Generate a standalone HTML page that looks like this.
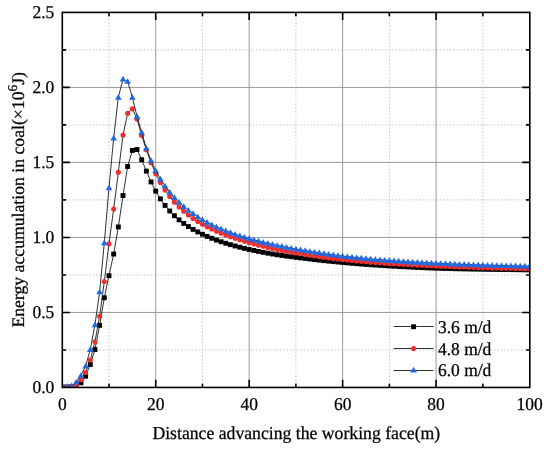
<!DOCTYPE html>
<html><head><meta charset="utf-8"><style>html,body{margin:0;padding:0;background:#fff;width:550px;height:449px;overflow:hidden}svg{display:block;text-rendering:geometricPrecision}</style></head><body>
<svg width="550" height="449" viewBox="0 0 550 449">
<defs><clipPath id="c"><rect x="62.3" y="12.4" width="467.5" height="375.05"/></clipPath></defs>
<rect width="550" height="449" fill="#fff"/>
<g stroke-width="1" fill="none">
<path d="M108.98 387.45V12.4" stroke="#bdbdbd" stroke-dasharray="1.4 2"/>
<path d="M155.71 12.4V387.45" stroke="#9a9a9a"/>
<path d="M202.44 387.45V12.4" stroke="#bdbdbd" stroke-dasharray="1.4 2"/>
<path d="M249.17 12.4V387.45" stroke="#9a9a9a"/>
<path d="M295.9 387.45V12.4" stroke="#bdbdbd" stroke-dasharray="1.4 2"/>
<path d="M342.63 12.4V387.45" stroke="#9a9a9a"/>
<path d="M389.36 387.45V12.4" stroke="#bdbdbd" stroke-dasharray="1.4 2"/>
<path d="M436.09 12.4V387.45" stroke="#9a9a9a"/>
<path d="M482.82 387.45V12.4" stroke="#bdbdbd" stroke-dasharray="1.4 2"/>
<path d="M62.3 349.94H529.8" stroke="#bdbdbd" stroke-dasharray="1.4 2"/>
<path d="M62.3 312.44H529.8" stroke="#9a9a9a"/>
<path d="M62.3 274.93H529.8" stroke="#bdbdbd" stroke-dasharray="1.4 2"/>
<path d="M62.3 237.43H529.8" stroke="#9a9a9a"/>
<path d="M62.3 199.92H529.8" stroke="#bdbdbd" stroke-dasharray="1.4 2"/>
<path d="M62.3 162.42H529.8" stroke="#9a9a9a"/>
<path d="M62.3 124.91H529.8" stroke="#bdbdbd" stroke-dasharray="1.4 2"/>
<path d="M62.3 87.41H529.8" stroke="#9a9a9a"/>
<path d="M62.3 49.9H529.8" stroke="#bdbdbd" stroke-dasharray="1.4 2"/>
</g>
<g clip-path="url(#c)">
<polyline points="62.25,387.15 66.92,387 71.6,386.7 76.27,386.25 80.94,382.8 85.62,376.2 90.29,364.5 94.96,349.49 99.63,325.34 104.31,297.74 108.98,275.69 113.65,254.08 118.33,226.93 123,195.57 127.67,166.47 132.34,150.42 137.02,149.52 141.69,159.72 146.36,171.12 151.04,181.92 155.71,191.13 160.38,198.87 165.06,205.41 169.73,210.96 174.4,215.72 179.07,219.84 183.75,223.42 188.42,226.58 193.09,229.37 197.77,231.94 202.44,234.26 207.11,236.38 211.79,238.31 216.46,240.1 221.13,241.76 225.81,243.26 230.48,244.66 235.15,245.97 239.82,247.21 244.5,248.37 249.17,249.48 253.84,250.48 258.52,251.42 263.19,252.32 267.86,253.18 272.53,253.99 277.21,254.77 281.88,255.46 286.55,256.11 291.23,256.73 295.9,257.33 300.57,257.89 305.25,258.43 309.92,259.01 314.59,259.57 319.26,260.11 323.94,260.63 328.61,261.12 333.28,261.59 337.96,262.04 342.63,262.48 347.3,262.89 351.98,263.29 356.65,263.67 361.32,264.04 366,264.39 370.67,264.73 375.34,265.05 380.01,265.36 384.69,265.66 389.36,265.94 394.03,266.21 398.71,266.47 403.38,266.72 408.05,266.96 412.73,267.19 417.4,267.42 422.07,267.63 426.74,267.83 431.42,268.02 436.09,268.21 440.76,268.35 445.44,268.47 450.11,268.59 454.78,268.71 459.45,268.81 464.13,268.91 468.8,269.01 473.47,269.1 478.15,269.18 482.82,269.26 487.49,269.33 492.17,269.4 496.84,269.46 501.51,269.52 506.19,269.58 510.86,269.63 515.53,269.68 520.2,269.76 524.88,269.85 529.55,269.93" fill="none" stroke="#1a1a1a" stroke-width="0.9" stroke-linejoin="round"/>
<rect x="59.8" y="384.7" width="4.9" height="4.9" fill="#000"/>
<rect x="64.47" y="384.55" width="4.9" height="4.9" fill="#000"/>
<rect x="69.15" y="384.25" width="4.9" height="4.9" fill="#000"/>
<rect x="73.82" y="383.8" width="4.9" height="4.9" fill="#000"/>
<rect x="78.49" y="380.35" width="4.9" height="4.9" fill="#000"/>
<rect x="83.17" y="373.75" width="4.9" height="4.9" fill="#000"/>
<rect x="87.84" y="362.05" width="4.9" height="4.9" fill="#000"/>
<rect x="92.51" y="347.04" width="4.9" height="4.9" fill="#000"/>
<rect x="97.18" y="322.89" width="4.9" height="4.9" fill="#000"/>
<rect x="101.86" y="295.29" width="4.9" height="4.9" fill="#000"/>
<rect x="106.53" y="273.24" width="4.9" height="4.9" fill="#000"/>
<rect x="111.2" y="251.63" width="4.9" height="4.9" fill="#000"/>
<rect x="115.88" y="224.48" width="4.9" height="4.9" fill="#000"/>
<rect x="120.55" y="193.12" width="4.9" height="4.9" fill="#000"/>
<rect x="125.22" y="164.02" width="4.9" height="4.9" fill="#000"/>
<rect x="129.9" y="147.97" width="4.9" height="4.9" fill="#000"/>
<rect x="134.57" y="147.07" width="4.9" height="4.9" fill="#000"/>
<rect x="139.24" y="157.27" width="4.9" height="4.9" fill="#000"/>
<rect x="143.91" y="168.67" width="4.9" height="4.9" fill="#000"/>
<rect x="148.59" y="179.47" width="4.9" height="4.9" fill="#000"/>
<rect x="153.26" y="188.68" width="4.9" height="4.9" fill="#000"/>
<rect x="157.93" y="196.42" width="4.9" height="4.9" fill="#000"/>
<rect x="162.61" y="202.96" width="4.9" height="4.9" fill="#000"/>
<rect x="167.28" y="208.51" width="4.9" height="4.9" fill="#000"/>
<rect x="171.95" y="213.27" width="4.9" height="4.9" fill="#000"/>
<rect x="176.62" y="217.39" width="4.9" height="4.9" fill="#000"/>
<rect x="181.3" y="220.97" width="4.9" height="4.9" fill="#000"/>
<rect x="185.97" y="224.13" width="4.9" height="4.9" fill="#000"/>
<rect x="190.64" y="226.92" width="4.9" height="4.9" fill="#000"/>
<rect x="195.32" y="229.49" width="4.9" height="4.9" fill="#000"/>
<rect x="199.99" y="231.81" width="4.9" height="4.9" fill="#000"/>
<rect x="204.66" y="233.93" width="4.9" height="4.9" fill="#000"/>
<rect x="209.34" y="235.86" width="4.9" height="4.9" fill="#000"/>
<rect x="214.01" y="237.65" width="4.9" height="4.9" fill="#000"/>
<rect x="218.68" y="239.31" width="4.9" height="4.9" fill="#000"/>
<rect x="223.36" y="240.81" width="4.9" height="4.9" fill="#000"/>
<rect x="228.03" y="242.21" width="4.9" height="4.9" fill="#000"/>
<rect x="232.7" y="243.52" width="4.9" height="4.9" fill="#000"/>
<rect x="237.37" y="244.76" width="4.9" height="4.9" fill="#000"/>
<rect x="242.05" y="245.92" width="4.9" height="4.9" fill="#000"/>
<rect x="246.72" y="247.03" width="4.9" height="4.9" fill="#000"/>
<rect x="251.39" y="248.03" width="4.9" height="4.9" fill="#000"/>
<rect x="256.07" y="248.97" width="4.9" height="4.9" fill="#000"/>
<rect x="260.74" y="249.87" width="4.9" height="4.9" fill="#000"/>
<rect x="265.41" y="250.73" width="4.9" height="4.9" fill="#000"/>
<rect x="270.08" y="251.54" width="4.9" height="4.9" fill="#000"/>
<rect x="274.76" y="252.32" width="4.9" height="4.9" fill="#000"/>
<rect x="279.43" y="253.01" width="4.9" height="4.9" fill="#000"/>
<rect x="284.1" y="253.66" width="4.9" height="4.9" fill="#000"/>
<rect x="288.78" y="254.28" width="4.9" height="4.9" fill="#000"/>
<rect x="293.45" y="254.88" width="4.9" height="4.9" fill="#000"/>
<rect x="298.12" y="255.44" width="4.9" height="4.9" fill="#000"/>
<rect x="302.8" y="255.98" width="4.9" height="4.9" fill="#000"/>
<rect x="307.47" y="256.56" width="4.9" height="4.9" fill="#000"/>
<rect x="312.14" y="257.12" width="4.9" height="4.9" fill="#000"/>
<rect x="316.81" y="257.66" width="4.9" height="4.9" fill="#000"/>
<rect x="321.49" y="258.18" width="4.9" height="4.9" fill="#000"/>
<rect x="326.16" y="258.67" width="4.9" height="4.9" fill="#000"/>
<rect x="330.83" y="259.14" width="4.9" height="4.9" fill="#000"/>
<rect x="335.51" y="259.59" width="4.9" height="4.9" fill="#000"/>
<rect x="340.18" y="260.03" width="4.9" height="4.9" fill="#000"/>
<rect x="344.85" y="260.44" width="4.9" height="4.9" fill="#000"/>
<rect x="349.53" y="260.84" width="4.9" height="4.9" fill="#000"/>
<rect x="354.2" y="261.22" width="4.9" height="4.9" fill="#000"/>
<rect x="358.87" y="261.59" width="4.9" height="4.9" fill="#000"/>
<rect x="363.55" y="261.94" width="4.9" height="4.9" fill="#000"/>
<rect x="368.22" y="262.28" width="4.9" height="4.9" fill="#000"/>
<rect x="372.89" y="262.6" width="4.9" height="4.9" fill="#000"/>
<rect x="377.56" y="262.91" width="4.9" height="4.9" fill="#000"/>
<rect x="382.24" y="263.21" width="4.9" height="4.9" fill="#000"/>
<rect x="386.91" y="263.49" width="4.9" height="4.9" fill="#000"/>
<rect x="391.58" y="263.76" width="4.9" height="4.9" fill="#000"/>
<rect x="396.26" y="264.02" width="4.9" height="4.9" fill="#000"/>
<rect x="400.93" y="264.27" width="4.9" height="4.9" fill="#000"/>
<rect x="405.6" y="264.51" width="4.9" height="4.9" fill="#000"/>
<rect x="410.28" y="264.74" width="4.9" height="4.9" fill="#000"/>
<rect x="414.95" y="264.97" width="4.9" height="4.9" fill="#000"/>
<rect x="419.62" y="265.18" width="4.9" height="4.9" fill="#000"/>
<rect x="424.29" y="265.38" width="4.9" height="4.9" fill="#000"/>
<rect x="428.97" y="265.57" width="4.9" height="4.9" fill="#000"/>
<rect x="433.64" y="265.76" width="4.9" height="4.9" fill="#000"/>
<rect x="438.31" y="265.9" width="4.9" height="4.9" fill="#000"/>
<rect x="442.99" y="266.02" width="4.9" height="4.9" fill="#000"/>
<rect x="447.66" y="266.14" width="4.9" height="4.9" fill="#000"/>
<rect x="452.33" y="266.26" width="4.9" height="4.9" fill="#000"/>
<rect x="457" y="266.36" width="4.9" height="4.9" fill="#000"/>
<rect x="461.68" y="266.46" width="4.9" height="4.9" fill="#000"/>
<rect x="466.35" y="266.56" width="4.9" height="4.9" fill="#000"/>
<rect x="471.02" y="266.65" width="4.9" height="4.9" fill="#000"/>
<rect x="475.7" y="266.73" width="4.9" height="4.9" fill="#000"/>
<rect x="480.37" y="266.81" width="4.9" height="4.9" fill="#000"/>
<rect x="485.04" y="266.88" width="4.9" height="4.9" fill="#000"/>
<rect x="489.72" y="266.95" width="4.9" height="4.9" fill="#000"/>
<rect x="494.39" y="267.01" width="4.9" height="4.9" fill="#000"/>
<rect x="499.06" y="267.07" width="4.9" height="4.9" fill="#000"/>
<rect x="503.74" y="267.13" width="4.9" height="4.9" fill="#000"/>
<rect x="508.41" y="267.18" width="4.9" height="4.9" fill="#000"/>
<rect x="513.08" y="267.23" width="4.9" height="4.9" fill="#000"/>
<rect x="517.75" y="267.31" width="4.9" height="4.9" fill="#000"/>
<rect x="522.43" y="267.4" width="4.9" height="4.9" fill="#000"/>
<rect x="527.1" y="267.48" width="4.9" height="4.9" fill="#000"/>
<polyline points="62.25,387 66.92,386.7 71.6,386.25 76.27,385.05 80.94,379.8 85.62,372.45 90.29,360 94.96,341.69 99.63,316.34 104.31,281.54 108.98,243.73 113.65,209.08 118.33,172.32 123,135.12 127.67,113.36 132.34,108.86 137.02,119.06 141.69,135.42 146.36,149.82 151.04,162.72 155.71,173.65 160.38,182.53 165.06,190.07 169.73,196.55 174.4,202.14 179.07,207.01 183.75,211.29 188.42,215.07 193.09,218.46 197.77,221.5 202.44,224.25 207.11,226.77 211.79,229.07 216.46,231.2 221.13,233.17 225.81,235.01 230.48,236.73 235.15,238.34 239.82,239.86 244.5,241.3 249.17,242.65 253.84,243.94 258.52,245.15 263.19,246.31 267.86,247.41 272.53,248.46 277.21,249.46 281.88,250.42 286.55,251.33 291.23,252.2 295.9,253.03 300.57,253.82 305.25,254.58 309.92,255.3 314.59,255.99 319.26,256.66 323.94,257.29 328.61,257.89 333.28,258.47 337.96,259.03 342.63,259.56 347.3,260.04 351.98,260.5 356.65,260.94 361.32,261.36 366,261.76 370.67,262.14 375.34,262.5 380.01,262.85 384.69,263.18 389.36,263.49 394.03,263.79 398.71,264.08 403.38,264.35 408.05,264.61 412.73,264.86 417.4,265.1 422.07,265.32 426.74,265.54 431.42,265.74 436.09,265.94 440.76,266.14 445.44,266.34 450.11,266.53 454.78,266.71 459.45,266.88 464.13,267.05 468.8,267.2 473.47,267.35 478.15,267.5 482.82,267.64 487.49,267.77 492.17,267.89 496.84,268.01 501.51,268.13 506.19,268.24 510.86,268.34 515.53,268.44 520.2,268.54 524.88,268.64 529.55,268.73" fill="none" stroke="#1a1a1a" stroke-width="0.9" stroke-linejoin="round"/>
<circle cx="62.25" cy="387" r="2.55" fill="#ee3030"/>
<circle cx="66.92" cy="386.7" r="2.55" fill="#ee3030"/>
<circle cx="71.6" cy="386.25" r="2.55" fill="#ee3030"/>
<circle cx="76.27" cy="385.05" r="2.55" fill="#ee3030"/>
<circle cx="80.94" cy="379.8" r="2.55" fill="#ee3030"/>
<circle cx="85.62" cy="372.45" r="2.55" fill="#ee3030"/>
<circle cx="90.29" cy="360" r="2.55" fill="#ee3030"/>
<circle cx="94.96" cy="341.69" r="2.55" fill="#ee3030"/>
<circle cx="99.63" cy="316.34" r="2.55" fill="#ee3030"/>
<circle cx="104.31" cy="281.54" r="2.55" fill="#ee3030"/>
<circle cx="108.98" cy="243.73" r="2.55" fill="#ee3030"/>
<circle cx="113.65" cy="209.08" r="2.55" fill="#ee3030"/>
<circle cx="118.33" cy="172.32" r="2.55" fill="#ee3030"/>
<circle cx="123" cy="135.12" r="2.55" fill="#ee3030"/>
<circle cx="127.67" cy="113.36" r="2.55" fill="#ee3030"/>
<circle cx="132.34" cy="108.86" r="2.55" fill="#ee3030"/>
<circle cx="137.02" cy="119.06" r="2.55" fill="#ee3030"/>
<circle cx="141.69" cy="135.42" r="2.55" fill="#ee3030"/>
<circle cx="146.36" cy="149.82" r="2.55" fill="#ee3030"/>
<circle cx="151.04" cy="162.72" r="2.55" fill="#ee3030"/>
<circle cx="155.71" cy="173.65" r="2.55" fill="#ee3030"/>
<circle cx="160.38" cy="182.53" r="2.55" fill="#ee3030"/>
<circle cx="165.06" cy="190.07" r="2.55" fill="#ee3030"/>
<circle cx="169.73" cy="196.55" r="2.55" fill="#ee3030"/>
<circle cx="174.4" cy="202.14" r="2.55" fill="#ee3030"/>
<circle cx="179.07" cy="207.01" r="2.55" fill="#ee3030"/>
<circle cx="183.75" cy="211.29" r="2.55" fill="#ee3030"/>
<circle cx="188.42" cy="215.07" r="2.55" fill="#ee3030"/>
<circle cx="193.09" cy="218.46" r="2.55" fill="#ee3030"/>
<circle cx="197.77" cy="221.5" r="2.55" fill="#ee3030"/>
<circle cx="202.44" cy="224.25" r="2.55" fill="#ee3030"/>
<circle cx="207.11" cy="226.77" r="2.55" fill="#ee3030"/>
<circle cx="211.79" cy="229.07" r="2.55" fill="#ee3030"/>
<circle cx="216.46" cy="231.2" r="2.55" fill="#ee3030"/>
<circle cx="221.13" cy="233.17" r="2.55" fill="#ee3030"/>
<circle cx="225.81" cy="235.01" r="2.55" fill="#ee3030"/>
<circle cx="230.48" cy="236.73" r="2.55" fill="#ee3030"/>
<circle cx="235.15" cy="238.34" r="2.55" fill="#ee3030"/>
<circle cx="239.82" cy="239.86" r="2.55" fill="#ee3030"/>
<circle cx="244.5" cy="241.3" r="2.55" fill="#ee3030"/>
<circle cx="249.17" cy="242.65" r="2.55" fill="#ee3030"/>
<circle cx="253.84" cy="243.94" r="2.55" fill="#ee3030"/>
<circle cx="258.52" cy="245.15" r="2.55" fill="#ee3030"/>
<circle cx="263.19" cy="246.31" r="2.55" fill="#ee3030"/>
<circle cx="267.86" cy="247.41" r="2.55" fill="#ee3030"/>
<circle cx="272.53" cy="248.46" r="2.55" fill="#ee3030"/>
<circle cx="277.21" cy="249.46" r="2.55" fill="#ee3030"/>
<circle cx="281.88" cy="250.42" r="2.55" fill="#ee3030"/>
<circle cx="286.55" cy="251.33" r="2.55" fill="#ee3030"/>
<circle cx="291.23" cy="252.2" r="2.55" fill="#ee3030"/>
<circle cx="295.9" cy="253.03" r="2.55" fill="#ee3030"/>
<circle cx="300.57" cy="253.82" r="2.55" fill="#ee3030"/>
<circle cx="305.25" cy="254.58" r="2.55" fill="#ee3030"/>
<circle cx="309.92" cy="255.3" r="2.55" fill="#ee3030"/>
<circle cx="314.59" cy="255.99" r="2.55" fill="#ee3030"/>
<circle cx="319.26" cy="256.66" r="2.55" fill="#ee3030"/>
<circle cx="323.94" cy="257.29" r="2.55" fill="#ee3030"/>
<circle cx="328.61" cy="257.89" r="2.55" fill="#ee3030"/>
<circle cx="333.28" cy="258.47" r="2.55" fill="#ee3030"/>
<circle cx="337.96" cy="259.03" r="2.55" fill="#ee3030"/>
<circle cx="342.63" cy="259.56" r="2.55" fill="#ee3030"/>
<circle cx="347.3" cy="260.04" r="2.55" fill="#ee3030"/>
<circle cx="351.98" cy="260.5" r="2.55" fill="#ee3030"/>
<circle cx="356.65" cy="260.94" r="2.55" fill="#ee3030"/>
<circle cx="361.32" cy="261.36" r="2.55" fill="#ee3030"/>
<circle cx="366" cy="261.76" r="2.55" fill="#ee3030"/>
<circle cx="370.67" cy="262.14" r="2.55" fill="#ee3030"/>
<circle cx="375.34" cy="262.5" r="2.55" fill="#ee3030"/>
<circle cx="380.01" cy="262.85" r="2.55" fill="#ee3030"/>
<circle cx="384.69" cy="263.18" r="2.55" fill="#ee3030"/>
<circle cx="389.36" cy="263.49" r="2.55" fill="#ee3030"/>
<circle cx="394.03" cy="263.79" r="2.55" fill="#ee3030"/>
<circle cx="398.71" cy="264.08" r="2.55" fill="#ee3030"/>
<circle cx="403.38" cy="264.35" r="2.55" fill="#ee3030"/>
<circle cx="408.05" cy="264.61" r="2.55" fill="#ee3030"/>
<circle cx="412.73" cy="264.86" r="2.55" fill="#ee3030"/>
<circle cx="417.4" cy="265.1" r="2.55" fill="#ee3030"/>
<circle cx="422.07" cy="265.32" r="2.55" fill="#ee3030"/>
<circle cx="426.74" cy="265.54" r="2.55" fill="#ee3030"/>
<circle cx="431.42" cy="265.74" r="2.55" fill="#ee3030"/>
<circle cx="436.09" cy="265.94" r="2.55" fill="#ee3030"/>
<circle cx="440.76" cy="266.14" r="2.55" fill="#ee3030"/>
<circle cx="445.44" cy="266.34" r="2.55" fill="#ee3030"/>
<circle cx="450.11" cy="266.53" r="2.55" fill="#ee3030"/>
<circle cx="454.78" cy="266.71" r="2.55" fill="#ee3030"/>
<circle cx="459.45" cy="266.88" r="2.55" fill="#ee3030"/>
<circle cx="464.13" cy="267.05" r="2.55" fill="#ee3030"/>
<circle cx="468.8" cy="267.2" r="2.55" fill="#ee3030"/>
<circle cx="473.47" cy="267.35" r="2.55" fill="#ee3030"/>
<circle cx="478.15" cy="267.5" r="2.55" fill="#ee3030"/>
<circle cx="482.82" cy="267.64" r="2.55" fill="#ee3030"/>
<circle cx="487.49" cy="267.77" r="2.55" fill="#ee3030"/>
<circle cx="492.17" cy="267.89" r="2.55" fill="#ee3030"/>
<circle cx="496.84" cy="268.01" r="2.55" fill="#ee3030"/>
<circle cx="501.51" cy="268.13" r="2.55" fill="#ee3030"/>
<circle cx="506.19" cy="268.24" r="2.55" fill="#ee3030"/>
<circle cx="510.86" cy="268.34" r="2.55" fill="#ee3030"/>
<circle cx="515.53" cy="268.44" r="2.55" fill="#ee3030"/>
<circle cx="520.2" cy="268.54" r="2.55" fill="#ee3030"/>
<circle cx="524.88" cy="268.64" r="2.55" fill="#ee3030"/>
<circle cx="529.55" cy="268.73" r="2.55" fill="#ee3030"/>
<polyline points="62.25,387.15 66.92,386.55 71.6,385.95 76.27,382.05 80.94,375.45 85.62,366.15 90.29,349.49 94.96,324.74 99.63,291.89 104.31,242.68 108.98,187.77 113.65,138.12 118.33,97.31 123,79.01 127.67,81.41 132.34,97.31 137.02,116.51 141.69,132.42 146.36,148.32 151.04,160.47 155.71,170.67 160.38,178.93 165.06,186.06 169.73,192.23 174.4,197.62 179.07,202.36 183.75,206.55 188.42,210.28 193.09,213.62 197.77,216.76 202.44,219.63 207.11,222.25 211.79,224.67 216.46,226.92 221.13,228.92 225.81,230.79 230.48,232.54 235.15,234.19 239.82,235.74 244.5,237.17 249.17,238.53 253.84,239.82 258.52,241.04 263.19,242.21 267.86,243.32 272.53,244.38 277.21,245.39 281.88,246.35 286.55,247.28 291.23,248.16 295.9,249.01 300.57,249.82 305.25,250.6 309.92,251.39 314.59,252.14 319.26,252.86 323.94,253.56 328.61,254.23 333.28,254.87 337.96,255.49 342.63,256.09 347.3,256.63 351.98,257.14 356.65,257.64 361.32,258.12 366,258.57 370.67,259.01 375.34,259.4 380.01,259.77 384.69,260.13 389.36,260.47 394.03,260.8 398.71,261.11 403.38,261.41 408.05,261.69 412.73,261.96 417.4,262.23 422.07,262.48 426.74,262.71 431.42,262.94 436.09,263.16 440.76,263.38 445.44,263.59 450.11,263.8 454.78,263.99 459.45,264.18 464.13,264.36 468.8,264.53 473.47,264.69 478.15,264.85 482.82,265 487.49,265.14 492.17,265.27 496.84,265.41 501.51,265.53 506.19,265.65 510.86,265.76 515.53,265.87 520.2,265.99 524.88,266.11 529.55,266.22" fill="none" stroke="#1a1a1a" stroke-width="0.9" stroke-linejoin="round"/>
<path d="M62.25 383.9L65.6 389.6H58.9Z" fill="#1e6ae6"/>
<path d="M66.92 383.3L70.27 389H63.57Z" fill="#1e6ae6"/>
<path d="M71.6 382.7L74.95 388.4H68.25Z" fill="#1e6ae6"/>
<path d="M76.27 378.8L79.62 384.5H72.92Z" fill="#1e6ae6"/>
<path d="M80.94 372.2L84.29 377.9H77.59Z" fill="#1e6ae6"/>
<path d="M85.62 362.9L88.97 368.6H82.27Z" fill="#1e6ae6"/>
<path d="M90.29 346.24L93.64 351.94H86.94Z" fill="#1e6ae6"/>
<path d="M94.96 321.49L98.31 327.19H91.61Z" fill="#1e6ae6"/>
<path d="M99.63 288.64L102.98 294.34H96.28Z" fill="#1e6ae6"/>
<path d="M104.31 239.43L107.66 245.13H100.96Z" fill="#1e6ae6"/>
<path d="M108.98 184.52L112.33 190.22H105.63Z" fill="#1e6ae6"/>
<path d="M113.65 134.87L117 140.57H110.3Z" fill="#1e6ae6"/>
<path d="M118.33 94.06L121.68 99.76H114.98Z" fill="#1e6ae6"/>
<path d="M123 75.76L126.35 81.46H119.65Z" fill="#1e6ae6"/>
<path d="M127.67 78.16L131.02 83.86H124.32Z" fill="#1e6ae6"/>
<path d="M132.34 94.06L135.69 99.76H129Z" fill="#1e6ae6"/>
<path d="M137.02 113.26L140.37 118.96H133.67Z" fill="#1e6ae6"/>
<path d="M141.69 129.17L145.04 134.87H138.34Z" fill="#1e6ae6"/>
<path d="M146.36 145.07L149.71 150.77H143.01Z" fill="#1e6ae6"/>
<path d="M151.04 157.22L154.39 162.92H147.69Z" fill="#1e6ae6"/>
<path d="M155.71 167.42L159.06 173.12H152.36Z" fill="#1e6ae6"/>
<path d="M160.38 175.68L163.73 181.38H157.03Z" fill="#1e6ae6"/>
<path d="M165.06 182.81L168.41 188.51H161.71Z" fill="#1e6ae6"/>
<path d="M169.73 188.98L173.08 194.68H166.38Z" fill="#1e6ae6"/>
<path d="M174.4 194.37L177.75 200.07H171.05Z" fill="#1e6ae6"/>
<path d="M179.07 199.11L182.42 204.81H175.72Z" fill="#1e6ae6"/>
<path d="M183.75 203.3L187.1 209H180.4Z" fill="#1e6ae6"/>
<path d="M188.42 207.03L191.77 212.73H185.07Z" fill="#1e6ae6"/>
<path d="M193.09 210.37L196.44 216.07H189.74Z" fill="#1e6ae6"/>
<path d="M197.77 213.51L201.12 219.21H194.42Z" fill="#1e6ae6"/>
<path d="M202.44 216.38L205.79 222.08H199.09Z" fill="#1e6ae6"/>
<path d="M207.11 219L210.46 224.7H203.76Z" fill="#1e6ae6"/>
<path d="M211.79 221.42L215.14 227.12H208.44Z" fill="#1e6ae6"/>
<path d="M216.46 223.67L219.81 229.37H213.11Z" fill="#1e6ae6"/>
<path d="M221.13 225.67L224.48 231.37H217.78Z" fill="#1e6ae6"/>
<path d="M225.81 227.54L229.16 233.24H222.46Z" fill="#1e6ae6"/>
<path d="M230.48 229.29L233.83 234.99H227.13Z" fill="#1e6ae6"/>
<path d="M235.15 230.94L238.5 236.64H231.8Z" fill="#1e6ae6"/>
<path d="M239.82 232.49L243.17 238.19H236.47Z" fill="#1e6ae6"/>
<path d="M244.5 233.92L247.85 239.62H241.15Z" fill="#1e6ae6"/>
<path d="M249.17 235.28L252.52 240.98H245.82Z" fill="#1e6ae6"/>
<path d="M253.84 236.57L257.19 242.27H250.49Z" fill="#1e6ae6"/>
<path d="M258.52 237.79L261.87 243.49H255.17Z" fill="#1e6ae6"/>
<path d="M263.19 238.96L266.54 244.66H259.84Z" fill="#1e6ae6"/>
<path d="M267.86 240.07L271.21 245.77H264.51Z" fill="#1e6ae6"/>
<path d="M272.53 241.13L275.88 246.83H269.18Z" fill="#1e6ae6"/>
<path d="M277.21 242.14L280.56 247.84H273.86Z" fill="#1e6ae6"/>
<path d="M281.88 243.1L285.23 248.8H278.53Z" fill="#1e6ae6"/>
<path d="M286.55 244.03L289.9 249.73H283.2Z" fill="#1e6ae6"/>
<path d="M291.23 244.91L294.58 250.61H287.88Z" fill="#1e6ae6"/>
<path d="M295.9 245.76L299.25 251.46H292.55Z" fill="#1e6ae6"/>
<path d="M300.57 246.57L303.92 252.27H297.22Z" fill="#1e6ae6"/>
<path d="M305.25 247.35L308.6 253.05H301.9Z" fill="#1e6ae6"/>
<path d="M309.92 248.14L313.27 253.84H306.57Z" fill="#1e6ae6"/>
<path d="M314.59 248.89L317.94 254.59H311.24Z" fill="#1e6ae6"/>
<path d="M319.26 249.61L322.62 255.31H315.91Z" fill="#1e6ae6"/>
<path d="M323.94 250.31L327.29 256.01H320.59Z" fill="#1e6ae6"/>
<path d="M328.61 250.98L331.96 256.68H325.26Z" fill="#1e6ae6"/>
<path d="M333.28 251.62L336.63 257.32H329.93Z" fill="#1e6ae6"/>
<path d="M337.96 252.24L341.31 257.94H334.61Z" fill="#1e6ae6"/>
<path d="M342.63 252.84L345.98 258.54H339.28Z" fill="#1e6ae6"/>
<path d="M347.3 253.38L350.65 259.08H343.95Z" fill="#1e6ae6"/>
<path d="M351.98 253.89L355.33 259.59H348.63Z" fill="#1e6ae6"/>
<path d="M356.65 254.39L360 260.09H353.3Z" fill="#1e6ae6"/>
<path d="M361.32 254.87L364.67 260.57H357.97Z" fill="#1e6ae6"/>
<path d="M366 255.32L369.35 261.02H362.64Z" fill="#1e6ae6"/>
<path d="M370.67 255.76L374.02 261.46H367.32Z" fill="#1e6ae6"/>
<path d="M375.34 256.15L378.69 261.85H371.99Z" fill="#1e6ae6"/>
<path d="M380.01 256.52L383.36 262.22H376.66Z" fill="#1e6ae6"/>
<path d="M384.69 256.88L388.04 262.58H381.34Z" fill="#1e6ae6"/>
<path d="M389.36 257.22L392.71 262.92H386.01Z" fill="#1e6ae6"/>
<path d="M394.03 257.55L397.38 263.25H390.68Z" fill="#1e6ae6"/>
<path d="M398.71 257.86L402.06 263.56H395.36Z" fill="#1e6ae6"/>
<path d="M403.38 258.16L406.73 263.86H400.03Z" fill="#1e6ae6"/>
<path d="M408.05 258.44L411.4 264.14H404.7Z" fill="#1e6ae6"/>
<path d="M412.73 258.71L416.08 264.41H409.38Z" fill="#1e6ae6"/>
<path d="M417.4 258.98L420.75 264.68H414.05Z" fill="#1e6ae6"/>
<path d="M422.07 259.23L425.42 264.93H418.72Z" fill="#1e6ae6"/>
<path d="M426.74 259.46L430.09 265.16H423.39Z" fill="#1e6ae6"/>
<path d="M431.42 259.69L434.77 265.39H428.07Z" fill="#1e6ae6"/>
<path d="M436.09 259.91L439.44 265.61H432.74Z" fill="#1e6ae6"/>
<path d="M440.76 260.13L444.11 265.83H437.41Z" fill="#1e6ae6"/>
<path d="M445.44 260.34L448.79 266.04H442.09Z" fill="#1e6ae6"/>
<path d="M450.11 260.55L453.46 266.25H446.76Z" fill="#1e6ae6"/>
<path d="M454.78 260.74L458.13 266.44H451.43Z" fill="#1e6ae6"/>
<path d="M459.45 260.93L462.81 266.63H456.1Z" fill="#1e6ae6"/>
<path d="M464.13 261.11L467.48 266.81H460.78Z" fill="#1e6ae6"/>
<path d="M468.8 261.28L472.15 266.98H465.45Z" fill="#1e6ae6"/>
<path d="M473.47 261.44L476.82 267.14H470.12Z" fill="#1e6ae6"/>
<path d="M478.15 261.6L481.5 267.3H474.8Z" fill="#1e6ae6"/>
<path d="M482.82 261.75L486.17 267.45H479.47Z" fill="#1e6ae6"/>
<path d="M487.49 261.89L490.84 267.59H484.14Z" fill="#1e6ae6"/>
<path d="M492.17 262.02L495.52 267.72H488.82Z" fill="#1e6ae6"/>
<path d="M496.84 262.16L500.19 267.86H493.49Z" fill="#1e6ae6"/>
<path d="M501.51 262.28L504.86 267.98H498.16Z" fill="#1e6ae6"/>
<path d="M506.19 262.4L509.54 268.1H502.83Z" fill="#1e6ae6"/>
<path d="M510.86 262.51L514.21 268.21H507.51Z" fill="#1e6ae6"/>
<path d="M515.53 262.62L518.88 268.32H512.18Z" fill="#1e6ae6"/>
<path d="M520.2 262.74L523.55 268.44H516.85Z" fill="#1e6ae6"/>
<path d="M524.88 262.86L528.23 268.56H521.53Z" fill="#1e6ae6"/>
<path d="M529.55 262.97L532.9 268.67H526.2Z" fill="#1e6ae6"/>
</g>
<g stroke="#000" stroke-width="1.6" fill="none">
<rect x="62.3" y="12.4" width="467.5" height="375.05"/>
<path d="M108.98 387.45v-3.8M108.98 12.4v3.8"/>
<path d="M155.71 387.45v-7.6M155.71 12.4v7.6"/>
<path d="M202.44 387.45v-3.8M202.44 12.4v3.8"/>
<path d="M249.17 387.45v-7.6M249.17 12.4v7.6"/>
<path d="M295.9 387.45v-3.8M295.9 12.4v3.8"/>
<path d="M342.63 387.45v-7.6M342.63 12.4v7.6"/>
<path d="M389.36 387.45v-3.8M389.36 12.4v3.8"/>
<path d="M436.09 387.45v-7.6M436.09 12.4v7.6"/>
<path d="M482.82 387.45v-3.8M482.82 12.4v3.8"/>
<path d="M62.3 349.94h3.8M529.8 349.94h-3.8"/>
<path d="M62.3 312.44h7.6M529.8 312.44h-7.6"/>
<path d="M62.3 274.93h3.8M529.8 274.93h-3.8"/>
<path d="M62.3 237.43h7.6M529.8 237.43h-7.6"/>
<path d="M62.3 199.92h3.8M529.8 199.92h-3.8"/>
<path d="M62.3 162.42h7.6M529.8 162.42h-7.6"/>
<path d="M62.3 124.91h3.8M529.8 124.91h-3.8"/>
<path d="M62.3 87.41h7.6M529.8 87.41h-7.6"/>
<path d="M62.3 49.9h3.8M529.8 49.9h-3.8"/>
</g>
<g font-family="Liberation Serif, Times New Roman, serif" fill="#000" stroke="#000" stroke-width="0.25">
<text transform="translate(62.25 409.5) scale(1 1.03)" font-size="17.5" text-anchor="middle">0</text>
<text transform="translate(155.71 409.5) scale(1 1.03)" font-size="17.5" text-anchor="middle">20</text>
<text transform="translate(249.17 409.5) scale(1 1.03)" font-size="17.5" text-anchor="middle">40</text>
<text transform="translate(342.63 409.5) scale(1 1.03)" font-size="17.5" text-anchor="middle">60</text>
<text transform="translate(436.09 409.5) scale(1 1.03)" font-size="17.5" text-anchor="middle">80</text>
<text transform="translate(529.55 409.5) scale(1 1.03)" font-size="17.5" text-anchor="middle">100</text>
<text transform="translate(54.3 392.95) scale(1 1.03)" font-size="17.5" text-anchor="end">0.0</text>
<text transform="translate(54.3 317.94) scale(1 1.03)" font-size="17.5" text-anchor="end">0.5</text>
<text transform="translate(54.3 242.93) scale(1 1.03)" font-size="17.5" text-anchor="end">1.0</text>
<text transform="translate(54.3 167.92) scale(1 1.03)" font-size="17.5" text-anchor="end">1.5</text>
<text transform="translate(54.3 92.91) scale(1 1.03)" font-size="17.5" text-anchor="end">2.0</text>
<text transform="translate(54.3 17.9) scale(1 1.03)" font-size="17.5" text-anchor="end">2.5</text>
<text transform="translate(296.3 439) scale(1 1.03)" font-size="17.7" text-anchor="middle">Distance advancing the working face(m)</text>
<text transform="translate(24.4 199.8) rotate(-90)" font-size="17.7" text-anchor="middle">Energy accumulation in coal(×10<tspan font-size="13.5" dy="-7.3">6</tspan><tspan dy="7.3">J)</tspan></text>
</g>
<path d="M393.5 326.5H433.5" stroke="#1a1a1a" stroke-width="0.9"/>
<rect x="411.15" y="324.25" width="4.9" height="4.9" fill="#000"/>
<text transform="translate(437.9 332.7) scale(1 1.03)" font-family="Liberation Serif, Times New Roman, serif" stroke="#000" stroke-width="0.25" font-size="17.5">3.6 m/d</text>
<path d="M393.5 348.5H433.5" stroke="#1a1a1a" stroke-width="0.9"/>
<circle cx="413.6" cy="348.6" r="2.55" fill="#ee3030"/>
<text transform="translate(437.9 354.6) scale(1 1.03)" font-family="Liberation Serif, Times New Roman, serif" stroke="#000" stroke-width="0.25" font-size="17.5">4.8 m/d</text>
<path d="M393.5 370.5H433.5" stroke="#1a1a1a" stroke-width="0.9"/>
<path d="M413.6 366.85L416.95 372.55H410.25Z" fill="#1e6ae6"/>
<text transform="translate(437.9 376.1) scale(1 1.03)" font-family="Liberation Serif, Times New Roman, serif" stroke="#000" stroke-width="0.25" font-size="17.5">6.0 m/d</text>
</svg>
</body></html>
